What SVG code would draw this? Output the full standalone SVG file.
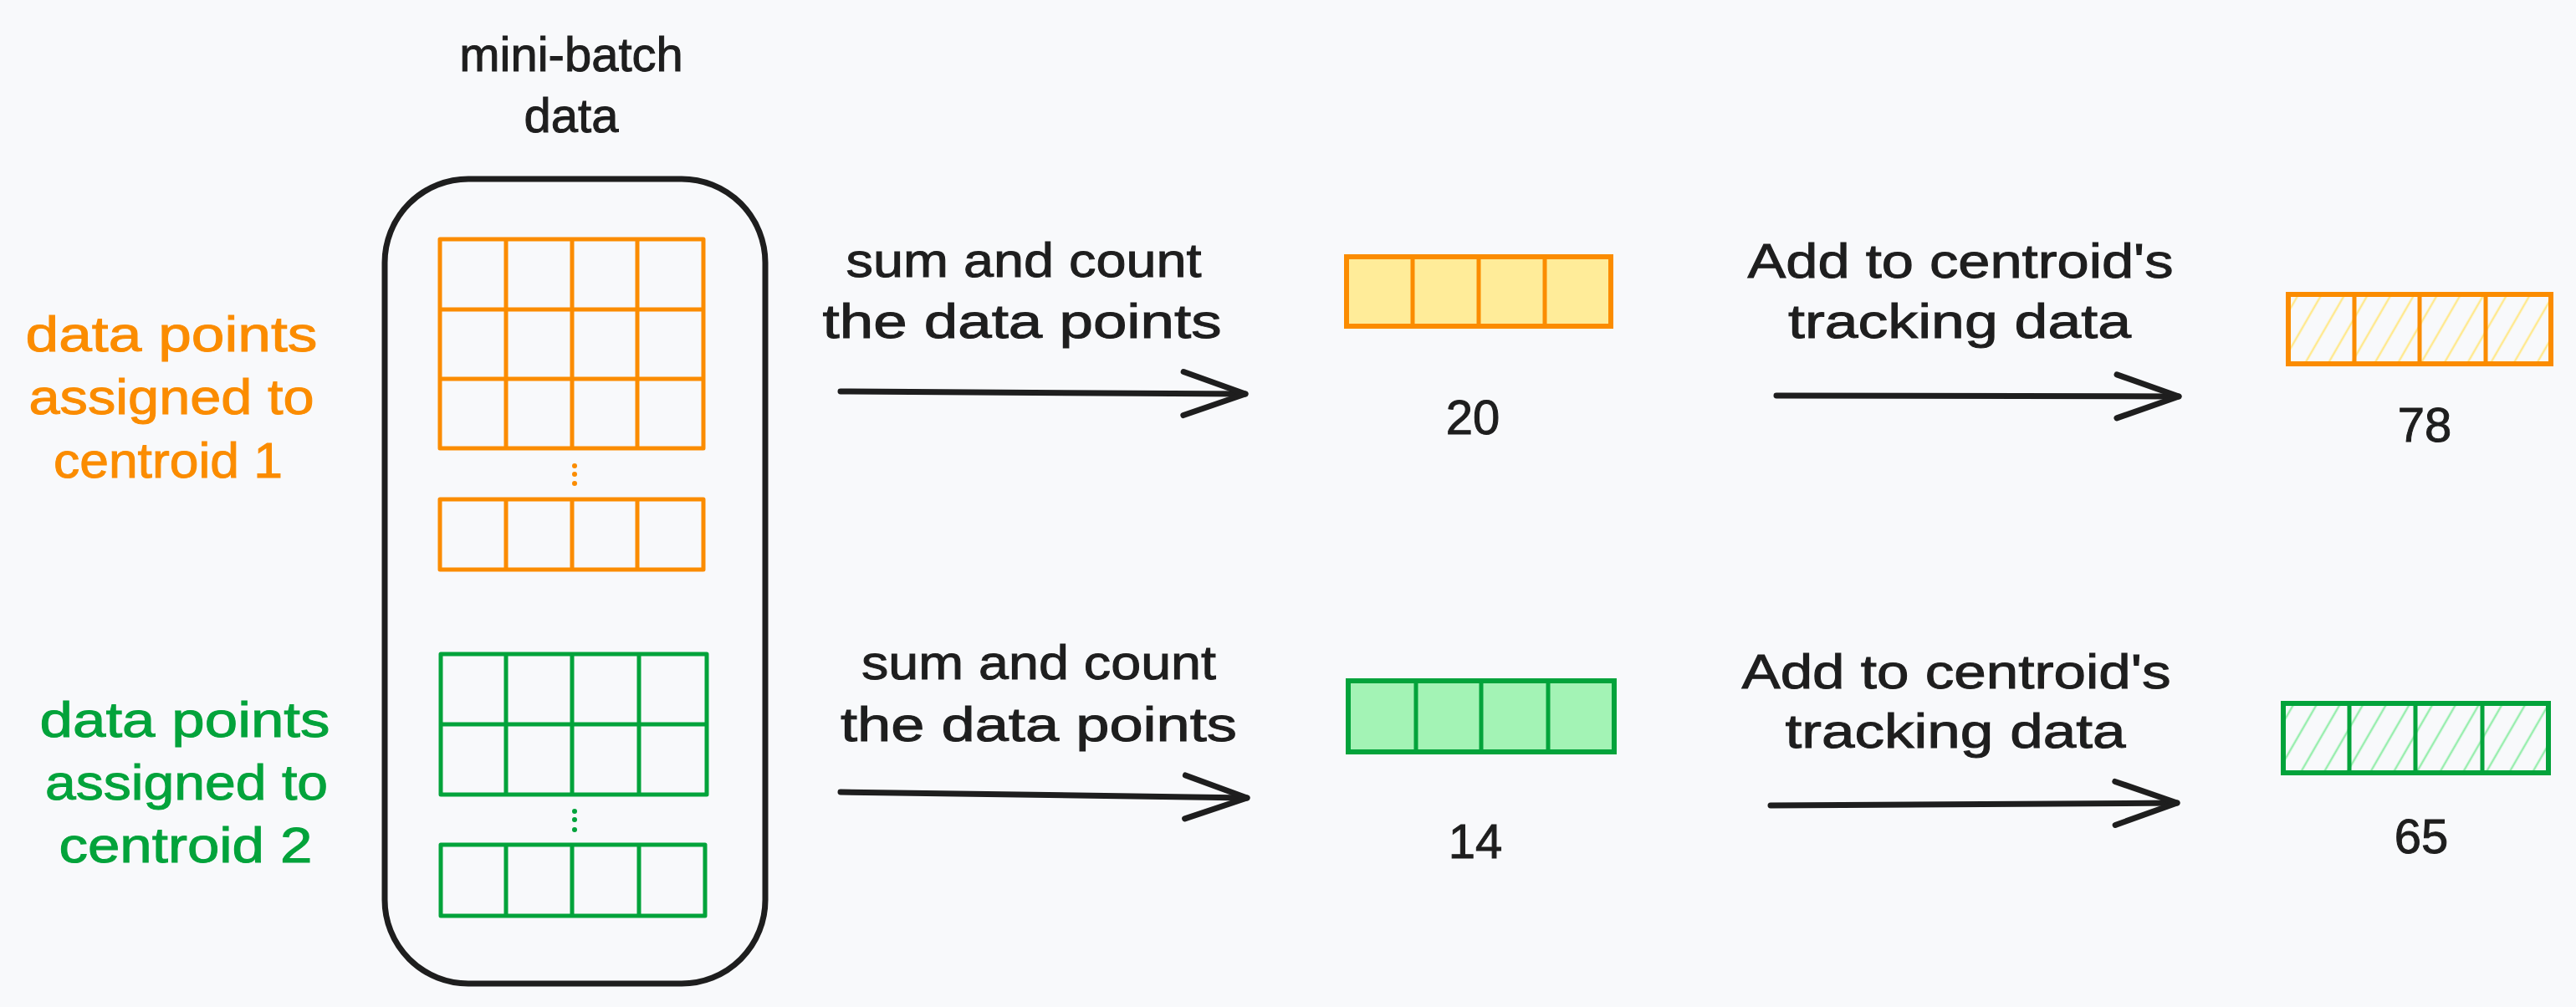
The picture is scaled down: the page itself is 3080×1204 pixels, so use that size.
<svg xmlns="http://www.w3.org/2000/svg" width="3080" height="1204" viewBox="0 0 3080 1204">
<style>
.bg{fill:#f8f9fb}
.t{font-family:"Liberation Sans","DejaVu Sans",sans-serif;font-size:58px;fill:#1e1e1e;text-anchor:middle;stroke:#1e1e1e;stroke-width:1}
.lbl{font-size:60px}
.or{fill:#fb8c00;stroke:#fb8c00}
.gr{fill:#03a33b;stroke:#03a33b}
.os{stroke:#fb8c00;stroke-width:5;fill:none;stroke-linejoin:round}
.gs{stroke:#03a33b;stroke-width:5;fill:none;stroke-linejoin:round}
.conn{stroke:#1e1e1e;stroke-width:7;fill:none;stroke-linecap:round}
</style>
<defs>
<marker id="ah" markerUnits="userSpaceOnUse" markerWidth="100" markerHeight="80" refX="82" refY="32" orient="auto" viewBox="0 0 100 80">
<path d="M8 6 L82 32 L8 58" fill="none" stroke="#1e1e1e" stroke-width="7" stroke-linecap="round" stroke-linejoin="round"/>
</marker>
<pattern id="hatchY" patternUnits="userSpaceOnUse" width="24" height="100" patternTransform="rotate(30)">
<line x1="12" y1="0" x2="12" y2="100" stroke="#ffe98f" stroke-width="2.5"/>
</pattern>
<pattern id="hatchG" patternUnits="userSpaceOnUse" width="24" height="100" patternTransform="rotate(30)">
<line x1="12" y1="0" x2="12" y2="100" stroke="#98eeae" stroke-width="2.5"/>
</pattern>
</defs>
<rect class="bg" x="0" y="0" width="3080" height="1204"/>

<g id="minibatch-title">
<text class="t" x="683" y="85">mini-batch</text>
<text class="t" x="683" y="158">data</text>
</g>

<g id="minibatch-container">
<rect x="460" y="214" width="455" height="962" rx="100" ry="100" fill="none" stroke="#1e1e1e" stroke-width="7"/>
</g>

<g id="label-centroid1">
<text class="t lbl or" x="205" y="420" textLength="349" lengthAdjust="spacingAndGlyphs">data points</text>
<text class="t lbl or" x="205" y="495" textLength="341" lengthAdjust="spacingAndGlyphs">assigned to</text>
<text class="t lbl or" x="201" y="571" textLength="274" lengthAdjust="spacingAndGlyphs">centroid 1</text>
</g>

<g id="label-centroid2">
<text class="t lbl gr" x="221" y="881" textLength="347" lengthAdjust="spacingAndGlyphs">data points</text>
<text class="t lbl gr" x="223" y="956" textLength="338" lengthAdjust="spacingAndGlyphs">assigned to</text>
<text class="t lbl gr" x="222" y="1031" textLength="303" lengthAdjust="spacingAndGlyphs">centroid 2</text>
</g>

<g id="grid-centroid1">
<rect class="os" x="526" y="286" width="315" height="250"/>
<path class="os" d="M605 286V536M684 286V536M762 286V536M526 370H841M526 453H841"/>
<circle cx="687" cy="557" r="3" fill="#fb8c00"/>
<circle cx="687" cy="567" r="3" fill="#fb8c00"/>
<circle cx="687" cy="578" r="3" fill="#fb8c00"/>
<rect class="os" x="526" y="597" width="315" height="84"/>
<path class="os" d="M605 597V681M684 597V681M762 597V681"/>
</g>

<g id="grid-centroid2">
<rect class="gs" x="527" y="782" width="318" height="168"/>
<path class="gs" d="M605 782V950M684 782V950M764 782V950M527 866H845"/>
<circle cx="687" cy="970" r="3" fill="#03a33b"/>
<circle cx="687" cy="980" r="3" fill="#03a33b"/>
<circle cx="687" cy="992" r="3" fill="#03a33b"/>
<rect class="gs" x="527" y="1010" width="316" height="85"/>
<path class="gs" d="M605 1010V1095M684 1010V1095M764 1010V1095"/>
</g>

<g id="sum-label-1">
<text class="t" x="1224" y="331" textLength="425" lengthAdjust="spacingAndGlyphs">sum and count</text>
<text class="t" x="1222" y="404" textLength="477" lengthAdjust="spacingAndGlyphs">the data points</text>
</g>
<g id="sum-label-2">
<text class="t" x="1242" y="812" textLength="424" lengthAdjust="spacingAndGlyphs">sum and count</text>
<text class="t" x="1242" y="886" textLength="474" lengthAdjust="spacingAndGlyphs">the data points</text>
</g>

<g id="sum-vector-1">
<rect x="1610" y="307" width="316" height="83" fill="#ffec99" stroke="#fb8c00" stroke-width="6"/>
<path class="os" d="M1689 307V390M1768 307V390M1847 307V390"/>
</g>
<g id="count-1"><text class="t" x="1761" y="519">20</text></g>

<g id="sum-vector-2">
<rect x="1612" y="814" width="318" height="85" fill="#a3f3b5" stroke="#03a33b" stroke-width="6"/>
<path class="gs" d="M1693 814V899M1771 814V899M1851 814V899"/>
</g>
<g id="count-2"><text class="t" x="1764" y="1026">14</text></g>

<g id="add-label-1">
<text class="t" x="2344" y="332" textLength="509" lengthAdjust="spacingAndGlyphs">Add to centroid's</text>
<text class="t" x="2343" y="404" textLength="410" lengthAdjust="spacingAndGlyphs">tracking data</text>
</g>
<g id="add-label-2">
<text class="t" x="2339" y="823" textLength="513" lengthAdjust="spacingAndGlyphs">Add to centroid's</text>
<text class="t" x="2338" y="894" textLength="407" lengthAdjust="spacingAndGlyphs">tracking data</text>
</g>

<g id="tracking-vector-1">
<rect x="2736" y="352" width="314" height="83" fill="url(#hatchY)" stroke="#fb8c00" stroke-width="6"/>
<path class="os" d="M2815 352V435M2893 352V435M2972 352V435"/>
</g>
<g id="total-1"><text class="t" x="2899" y="528">78</text></g>

<g id="tracking-vector-2">
<rect x="2730" y="841" width="317" height="83" fill="url(#hatchG)" stroke="#03a33b" stroke-width="6"/>
<path class="gs" d="M2809 841V924M2888 841V924M2968 841V924"/>
</g>
<g id="total-2"><text class="t" x="2895" y="1020">65</text></g>

<g id="connectors">
<path class="conn" d="M1005 468 L1489 471" marker-end="url(#ah)"/>
<path class="conn" d="M1005 947 L1491 954" marker-end="url(#ah)"/>
<path class="conn" d="M2124 473 L2605 474" marker-end="url(#ah)"/>
<path class="conn" d="M2117 963 L2603 960" marker-end="url(#ah)"/>
</g>
</svg>
